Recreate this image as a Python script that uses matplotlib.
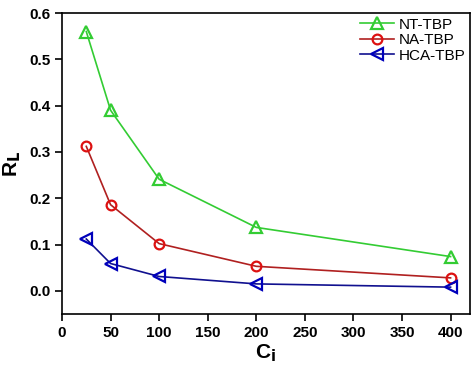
import matplotlib
matplotlib.use("Agg")
import matplotlib.pyplot as plt

plt.rcParams['font.family'] = ['Liberation Sans', 'DejaVu Sans']

ci = [25, 50, 100, 200, 400]
nt_tbp = [0.560, 0.390, 0.241, 0.137, 0.074]
na_tbp = [0.312, 0.186, 0.102, 0.053, 0.028]
hca_tbp = [0.112, 0.059, 0.031, 0.015, 0.008]

fig = plt.figure(figsize=(4.74, 3.65), dpi=100)
ax = fig.add_axes([62/474, 1 - 314/365, (470-62)/474, (314-13)/365])

ax.plot(ci, nt_tbp, color='#33cc33', marker='^', ms=9, mfc='none', mew=1.6, lw=1.2, label='NT-TBP')
ax.plot(ci, na_tbp, color='#b02020', marker='o', ms=7, mfc='none', mec='#dd1111', mew=1.6, lw=1.2, label='NA-TBP')
ax.plot(ci, hca_tbp, color='#10108f', marker='<', ms=9, mfc='none', mec='#0000bb', mew=1.6, lw=1.2, label='HCA-TBP')

ax.set_xlim(0, 420)
ax.set_ylim(-0.05, 0.6)
ax.set_xticks([0, 50, 100, 150, 200, 250, 300, 350, 400])
ax.set_yticks([0.0, 0.1, 0.2, 0.3, 0.4, 0.5, 0.6])
ax.set_yticklabels(['0.0', '0.1', '0.2', '0.3', '0.4', '0.5', '0.6'])
ax.tick_params(direction='out', length=5, width=1.2, labelsize=11, top=False, right=False)
for lbl in ax.get_xticklabels() + ax.get_yticklabels():
    lbl.set_fontweight('bold')
for s in ax.spines.values():
    s.set_linewidth(1.2)

ax.set_xlabel('C$_\\mathbf{i}$', fontsize=15, fontweight='bold', labelpad=2)
ax.set_ylabel('R$_\\mathbf{L}$', fontsize=15, fontweight='bold', labelpad=4)

ax.legend(loc='upper right', frameon=False, fontsize=11, handlelength=2.2, handletextpad=0.3,
          labelspacing=0.1, borderaxespad=0.1, borderpad=0.2)

fig.savefig('out.png', dpi=100)
